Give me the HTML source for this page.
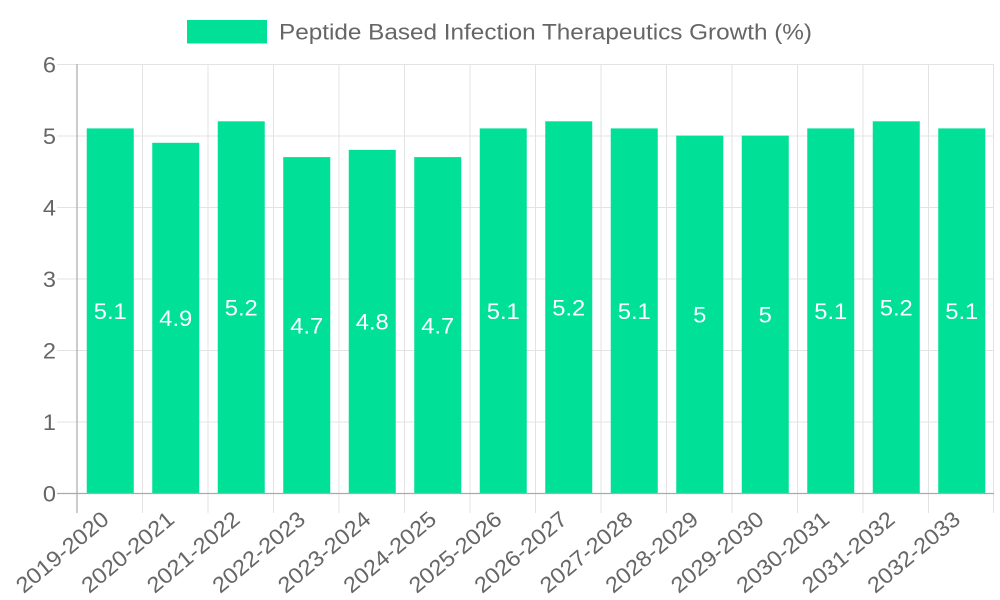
<!DOCTYPE html>
<html>
<head>
<meta charset="utf-8">
<style>
html,body{margin:0;padding:0;background:#fff;}
svg{display:block;}
text{font-family:"Liberation Sans",Arial,sans-serif;}
</style>
</head>
<body>
<svg width="1000" height="600" viewBox="0 0 1000 600" xmlns="http://www.w3.org/2000/svg">
  <!-- Legend -->
  <rect x="187" y="20" width="80" height="23.5" fill="#00e096"/>
  <text x="279" y="39.5" font-size="22" fill="#666" textLength="533" lengthAdjust="spacingAndGlyphs">Peptide Based Infection Therapeutics Growth (%)</text>

  <!-- horizontal gridlines (with tick extension) -->
  <g stroke="#e3e3e3" stroke-width="1">
    <line x1="57" y1="64.5" x2="994" y2="64.5"/>
    <line x1="57" y1="136" x2="994" y2="136"/>
    <line x1="57" y1="207.5" x2="994" y2="207.5"/>
    <line x1="57" y1="279" x2="994" y2="279"/>
    <line x1="57" y1="350.5" x2="994" y2="350.5"/>
    <line x1="57" y1="422" x2="994" y2="422"/>
  </g>
  <!-- vertical gridlines -->
  <g stroke="#e3e3e3" stroke-width="1">
    <line x1="142.5" y1="64" x2="142.5" y2="513"/>
    <line x1="208" y1="64" x2="208" y2="513"/>
    <line x1="273.5" y1="64" x2="273.5" y2="513"/>
    <line x1="339" y1="64" x2="339" y2="513"/>
    <line x1="404.5" y1="64" x2="404.5" y2="513"/>
    <line x1="470" y1="64" x2="470" y2="513"/>
    <line x1="535.5" y1="64" x2="535.5" y2="513"/>
    <line x1="601" y1="64" x2="601" y2="513"/>
    <line x1="666.5" y1="64" x2="666.5" y2="513"/>
    <line x1="732" y1="64" x2="732" y2="513"/>
    <line x1="797.5" y1="64" x2="797.5" y2="513"/>
    <line x1="863" y1="64" x2="863" y2="513"/>
    <line x1="928.5" y1="64" x2="928.5" y2="513"/>
    <line x1="993.5" y1="64" x2="993.5" y2="513"/>
  </g>

  <!-- Bars -->
  <g fill="#00e096">
    <rect x="86.75" y="128.4" width="47" height="365.1"/>
    <rect x="152.25" y="142.8" width="47" height="350.7"/>
    <rect x="217.75" y="121.3" width="47" height="372.2"/>
    <rect x="283.25" y="157.1" width="47" height="336.4"/>
    <rect x="348.75" y="149.9" width="47" height="343.6"/>
    <rect x="414.25" y="157.1" width="47" height="336.4"/>
    <rect x="479.75" y="128.4" width="47" height="365.1"/>
    <rect x="545.25" y="121.3" width="47" height="372.2"/>
    <rect x="610.75" y="128.4" width="47" height="365.1"/>
    <rect x="676.25" y="135.6" width="47" height="357.9"/>
    <rect x="741.75" y="135.6" width="47" height="357.9"/>
    <rect x="807.25" y="128.4" width="47" height="365.1"/>
    <rect x="872.75" y="121.3" width="47" height="372.2"/>
    <rect x="938.25" y="128.4" width="47" height="365.1"/>
  </g>

  <!-- axes -->
  <g stroke="#aaaaaa" stroke-width="1.2">
    <line x1="77" y1="64" x2="77" y2="513"/>
    <line x1="57" y1="493.5" x2="994" y2="493.5"/>
  </g>

  <!-- Y tick labels -->
  <g font-size="22" fill="#666" text-anchor="end">
    <text transform="translate(56,72.5) scale(1.07,1)">6</text>
    <text transform="translate(56,144) scale(1.07,1)">5</text>
    <text transform="translate(56,215.5) scale(1.07,1)">4</text>
    <text transform="translate(56,287) scale(1.07,1)">3</text>
    <text transform="translate(56,358.5) scale(1.07,1)">2</text>
    <text transform="translate(56,430) scale(1.07,1)">1</text>
    <text transform="translate(56,501.5) scale(1.07,1)">0</text>
  </g>

  <!-- Data labels -->
  <g font-size="22" fill="#fff" text-anchor="middle">
    <text transform="translate(110.25,319) scale(1.08,1)">5.1</text>
    <text transform="translate(175.75,326.1) scale(1.08,1)">4.9</text>
    <text transform="translate(241.25,315.4) scale(1.08,1)">5.2</text>
    <text transform="translate(306.75,333.3) scale(1.08,1)">4.7</text>
    <text transform="translate(372.25,329.7) scale(1.08,1)">4.8</text>
    <text transform="translate(437.75,333.3) scale(1.08,1)">4.7</text>
    <text transform="translate(503.25,319) scale(1.08,1)">5.1</text>
    <text transform="translate(568.75,315.4) scale(1.08,1)">5.2</text>
    <text transform="translate(634.25,319) scale(1.08,1)">5.1</text>
    <text transform="translate(699.75,322.6) scale(1.08,1)">5</text>
    <text transform="translate(765.25,322.6) scale(1.08,1)">5</text>
    <text transform="translate(830.75,319) scale(1.08,1)">5.1</text>
    <text transform="translate(896.25,315.4) scale(1.08,1)">5.2</text>
    <text transform="translate(961.75,319) scale(1.08,1)">5.1</text>
  </g>

  <!-- X tick labels -->
  <g font-size="22" fill="#666" text-anchor="end">
    <text transform="translate(110.25,521.5) rotate(-40)" textLength="113" lengthAdjust="spacingAndGlyphs">2019-2020</text>
    <text transform="translate(175.75,521.5) rotate(-40)" textLength="113" lengthAdjust="spacingAndGlyphs">2020-2021</text>
    <text transform="translate(241.25,521.5) rotate(-40)" textLength="113" lengthAdjust="spacingAndGlyphs">2021-2022</text>
    <text transform="translate(306.75,521.5) rotate(-40)" textLength="113" lengthAdjust="spacingAndGlyphs">2022-2023</text>
    <text transform="translate(372.25,521.5) rotate(-40)" textLength="113" lengthAdjust="spacingAndGlyphs">2023-2024</text>
    <text transform="translate(437.75,521.5) rotate(-40)" textLength="113" lengthAdjust="spacingAndGlyphs">2024-2025</text>
    <text transform="translate(503.25,521.5) rotate(-40)" textLength="113" lengthAdjust="spacingAndGlyphs">2025-2026</text>
    <text transform="translate(568.75,521.5) rotate(-40)" textLength="113" lengthAdjust="spacingAndGlyphs">2026-2027</text>
    <text transform="translate(634.25,521.5) rotate(-40)" textLength="113" lengthAdjust="spacingAndGlyphs">2027-2028</text>
    <text transform="translate(699.75,521.5) rotate(-40)" textLength="113" lengthAdjust="spacingAndGlyphs">2028-2029</text>
    <text transform="translate(765.25,521.5) rotate(-40)" textLength="113" lengthAdjust="spacingAndGlyphs">2029-2030</text>
    <text transform="translate(830.75,521.5) rotate(-40)" textLength="113" lengthAdjust="spacingAndGlyphs">2030-2031</text>
    <text transform="translate(896.25,521.5) rotate(-40)" textLength="113" lengthAdjust="spacingAndGlyphs">2031-2032</text>
    <text transform="translate(961.75,521.5) rotate(-40)" textLength="113" lengthAdjust="spacingAndGlyphs">2032-2033</text>
  </g>
</svg>
</body>
</html>
